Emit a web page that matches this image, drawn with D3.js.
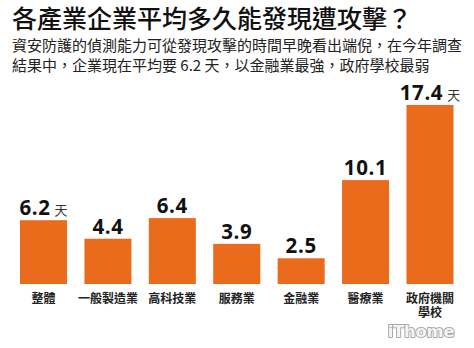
<!DOCTYPE html>
<html>
<head>
<meta charset="utf-8">
<script src="https://cdn.jsdelivr.net/npm/d3@7"></script>
<style>
  html, body { margin: 0; padding: 0; background: #fff; }
  svg { display: block; }
</style>
</head>
<body>
<script>
// Average days to detect an attack, by industry
const categories = ["整體", "一般製造業", "高科技業", "服務業", "金融業", "醫療業", "政府機關學校"];
const categoryLines = [["整體"], ["一般製造業"], ["高科技業"], ["服務業"], ["金融業"], ["醫療業"], ["政府機關", "學校"]];
const days = [6.2, 4.4, 6.4, 3.9, 2.5, 10.1, 17.4];
const unitShown = [true, false, false, false, false, false, true];

const title = "各產業企業平均多久能發現遭攻擊？";
const subtitle = [
  "資安防護的偵測能力可從發現攻擊的時間早晚看出端倪，在今年調查",
  "結果中，企業現在平均要 6.2 天，以金融業最強，政府學校最弱"
];

const W = 474, H = 348;
const cjk = "'Noto Sans CJK TC', 'Noto Sans CJK SC', sans-serif";
const num = "'Open Sans', 'Noto Sans', sans-serif";

const svg = d3.select("body").append("svg").attr("width", W).attr("height", H);

svg.append("text")
  .attr("x", 12).attr("y", 28)
  .attr("font-family", cjk).attr("font-size", 25).attr("font-weight", 500)
  .attr("fill", "#111")
  .text(title);

svg.selectAll("text.sub").data(subtitle).join("text")
  .attr("class", "sub")
  .attr("x", 12).attr("y", (d, i) => 51 + i * 20)
  .attr("font-family", cjk).attr("font-size", 15).attr("fill", "#222")
  .text(d => d);

const x = d3.scaleBand().domain(categories).range([20, 453.5]).paddingInner(0.27).paddingOuter(0);
const y = d3.scaleLinear().domain([0, 18]).range([284, 284 - 18 * 10.29]);

const g = svg.append("g");

g.selectAll("rect.bar").data(categories).join("rect")
  .attr("class", "bar")
  .attr("x", d => x(d))
  .attr("y", (d, i) => y(days[i]))
  .attr("width", x.bandwidth())
  .attr("height", (d, i) => y(0) - y(days[i]))
  .attr("fill", "#EA6B1C");

// value labels, with the unit on the first and last bars
const vl = g.selectAll("text.val").data(categories).join("text")
  .attr("class", "val")
  .attr("x", d => x(d) + x.bandwidth() / 2)
  .attr("y", (d, i) => y(days[i]) - 5)
  .attr("text-anchor", "middle")
  .attr("fill", "#111");
vl.append("tspan")
  .attr("font-family", num).attr("font-weight", 700).attr("font-size", 20.5)
  .attr("letter-spacing", 0.6)
  .text((d, i) => d3.format(".1f")(days[i]));
vl.filter((d, i) => unitShown[i]).append("tspan")
  .attr("dx", 4)
  .attr("font-family", cjk).attr("font-size", 13).attr("fill", "#333")
  .text("天");

// category labels, one text element per line
const catLines = categories.flatMap((c, i) => categoryLines[i].map((t, j) => ({ c, t, j })));
g.selectAll("text.cat").data(catLines).join("text")
  .attr("class", "cat")
  .attr("text-anchor", "middle")
  .attr("font-family", cjk).attr("font-size", 12).attr("font-weight", 700)
  .attr("fill", "#222")
  .attr("x", d => x(d.c) + x.bandwidth() / 2)
  .attr("y", d => 303 + d.j * 13.5)
  .text(d => d.t);

// logo
const defs = svg.append("defs");
defs.append("filter").attr("id", "soft")
  .append("feGaussianBlur").attr("stdDeviation", 0.4);
svg.append("text")
  .attr("x", 421).attr("y", 337)
  .attr("text-anchor", "middle")
  .attr("font-family", "'DejaVu Sans', sans-serif")
  .attr("font-weight", 700).attr("font-size", 16.5)
  .attr("letter-spacing", -0.3)
  .attr("fill", "#f4f4f4").attr("stroke", "#aaa").attr("stroke-width", 2)
  .attr("paint-order", "stroke")
  .attr("stroke-linejoin", "round")
  .attr("filter", "url(#soft)")
  .text("iThome");
</script>
</body>
</html>
